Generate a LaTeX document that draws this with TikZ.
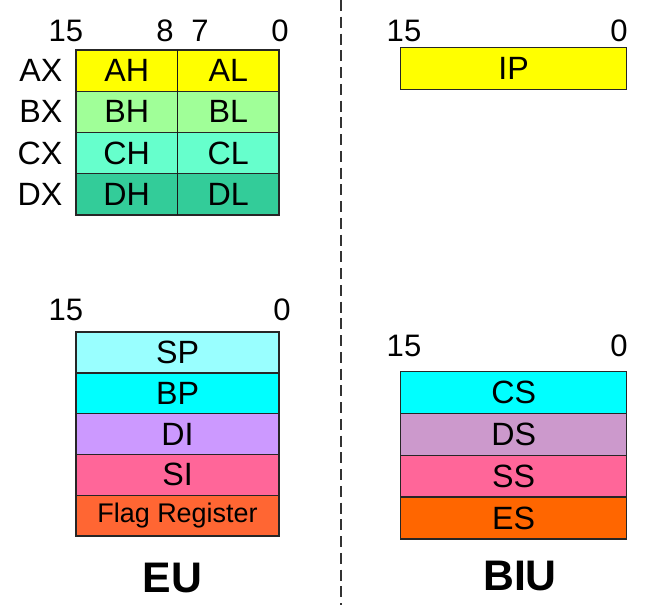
\documentclass[tikz,border=0pt]{standalone}
\usepackage{fontspec}
\setmainfont{Liberation Sans}
\usepackage{tikz}
\usetikzlibrary{positioning}

\definecolor{regyellow}{HTML}{FFFF00}
\definecolor{reglime}{HTML}{A0FF98}
\definecolor{regmint}{HTML}{66FFCC}
\definecolor{regjade}{HTML}{33CC99}
\definecolor{regsky}{HTML}{99FFFF}
\definecolor{regcyan}{HTML}{00FFFF}
\definecolor{reglilac}{HTML}{CC99FF}
\definecolor{regpink}{HTML}{FF6699}
\definecolor{regcoral}{HTML}{FF6633}
\definecolor{regmauve}{HTML}{CC99CC}
\definecolor{regorange}{HTML}{FF6600}

\tikzset{
    cell/.style={draw=black!85, line width=1.2pt, inner sep=0pt, outer sep=0pt,
        minimum width=3.045cm, minimum height=1.2375cm,
        font=\fontsize{27.5pt}{30pt}\selectfont},
    wide/.style={cell, minimum width=6.09cm, minimum height=1.224cm},
    segreg/.style={cell, minimum width=6.78cm, minimum height=1.254cm},
    bitno/.style={inner sep=0pt, font=\fontsize{26.5pt}{30pt}\selectfont},
    pairname/.style={bitno, font=\fontsize{27.5pt}{30pt}\selectfont},
    unitname/.style={inner sep=0pt, font=\fontsize{36.5pt}{40pt}\selectfont\bfseries}
}

\begin{document}
\begin{tikzpicture}
    \useasboundingbox (0,0) rectangle (20.1,18.15);

    % Divider between EU and BIU
    \coordinate (divtop) at (10.23,18.15);
    \coordinate (divbot) at (10.23,0);
    \draw[black!80, line width=1.7pt, dash pattern=on 9.5pt off 4.8pt] (divtop) -- (divbot);

    % General purpose registers
    \node[cell, fill=regyellow, anchor=north west] (ah) at (2.28,16.65) {AH};
    \node[cell, fill=regyellow, right=0pt of ah] (al) {AL};
    \node[cell, fill=reglime, below=0pt of ah] (bh) {BH};
    \node[cell, fill=reglime, right=0pt of bh] (bl) {BL};
    \node[cell, fill=regmint, below=0pt of bh] (ch) {CH};
    \node[cell, fill=regmint, right=0pt of ch] (cl) {CL};
    \node[cell, fill=regjade, below=0pt of ch] (dh) {DH};
    \node[cell, fill=regjade, right=0pt of dh] (dl) {DL};
    \draw[black!90, line width=1.4pt] (al.north west) -- (dl.south west);

    \node[pairname, left=0.4cm of ah] (ax) {AX};
    \node[pairname, left=0.4cm of bh] (bx) {BX};
    \node[pairname, left=0.4cm of ch] (cx) {CX};
    \node[pairname, left=0.4cm of dh] (dx) {DX};

    \node[bitno] (gp15) at (1.98,17.22) {15};
    \node[bitno] (gp8) at (4.95,17.22) {8};
    \node[bitno] (gp7) at (6.0,17.22) {7};
    \node[bitno] (gp0) at (8.4,17.22) {0};

    % Pointer and index registers
    \node[wide, fill=regsky, anchor=north west] (sp) at (2.28,8.19) {SP};
    \node[wide, fill=regcyan, below=0pt of sp] (bp) {BP};
    \node[wide, fill=reglilac, below=0pt of bp] (di) {DI};
    \node[wide, fill=regpink, below=0pt of di] (si) {SI};
    \node[wide, fill=regcoral, below=0pt of si,
        font=\fontsize{23pt}{26pt}\selectfont] (flags) {Flag Register};

    \node[bitno] (pi15) at (1.98,8.85) {15};
    \node[bitno] (pi0) at (8.46,8.85) {0};

    \node[unitname] (eu) at (5.175,0.825) {EU};

    % Instruction pointer
    \node[segreg, fill=regyellow, minimum height=1.26cm, anchor=north west] (ip) at (12.02,16.73) {IP};
    \node[bitno] (ip15) at (12.12,17.22) {15};
    \node[bitno] (ip0) at (18.57,17.22) {0};

    % Segment registers
    \node[segreg, fill=regcyan, anchor=north west] (cs) at (12.02,7.0) {CS};
    \node[segreg, fill=regmauve, below=0pt of cs] (ds) {DS};
    \node[segreg, fill=regpink, below=0pt of ds] (ss) {SS};
    \node[segreg, fill=regorange, below=0pt of ss] (es) {ES};

    \node[bitno] (sg15) at (12.12,7.77) {15};
    \node[bitno] (sg0) at (18.57,7.77) {0};

    \node[unitname] (biu) at (15.6,0.87) {BIU};
\end{tikzpicture}
\end{document}
